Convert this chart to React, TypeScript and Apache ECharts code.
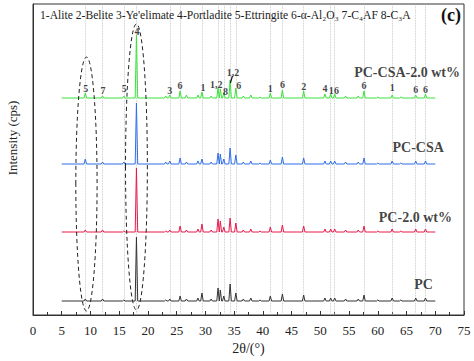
import React, { useEffect, useRef } from "react";
import * as echarts from "echarts";

// Peak positions (2θ, degrees) and heights (arbitrary units)
const peakPos = [9.1, 12.1, 15.8, 18.0, 23.1, 23.8, 25.6, 26.7, 28.7, 29.4, 31.0, 32.2, 32.6, 33.2, 34.3, 35.3, 36.6, 37.9, 39.5, 41.3, 43.4, 47.1, 50.8, 51.8, 52.5, 54.4, 56.6, 57.6, 60.0, 62.5, 64.0, 66.6, 68.3];
const greenPeaks = [5, 2, 2, 63, 2, 3, 7, 3, 3, 6, 2, 10, 9, 5, 18, 10, 2, 3, 1, 5, 8, 7, 4, 4, 4, 2, 2, 7, 1, 3, 1, 3, 4];
const bluePeaks = [5, 2, 2, 61, 2, 3, 6, 2, 3, 5, 2, 11, 10, 5, 16, 9, 2, 3, 1, 4, 7, 6, 3, 3, 3, 2, 2, 6, 1, 3, 1, 3, 3];
const redPeaks = [2, 2, 1, 64, 1, 2, 6, 2, 3, 8, 2, 13, 11, 5, 14, 9, 2, 3, 1, 5, 7, 6, 3, 3, 3, 2, 2, 6, 1, 3, 1, 3, 3];
const blackPeaks = [2, 2, 1, 64, 1, 2, 5, 2, 3, 8, 2, 13, 11, 5, 17, 8, 2, 3, 1, 5, 7, 6, 3, 3, 3, 2, 2, 6, 1, 3, 1, 3, 3];

const seriesNames = ["PC-CSA-2.0 wt%", "PC-CSA", "PC-2.0 wt%", "PC"];
const seriesOffsets = [217, 151, 83, 14];
const scanStart = 5;
const scanEnd = 70;

// Reference dotted lines
const refLines = [9.1, 12.1, 15.8, 18.0, 23.8, 25.6, 29.4, 32.2, 33.2, 34.3, 35.3, 41.3, 43.4, 47.1, 51.8, 52.5, 57.6, 62.5, 66.6, 68.3];

// Phase labels above the top pattern
const phaseLabelText = ["5", "7", "5", "4", "3", "6", "1", "1,2", "8", "1,2", "6", "1", "6", "2", "4", "1", "6", "6", "1", "6", "6"];
const phaseLabelX = [9.2, 12.2, 15.9, 18.1, 23.8, 25.6, 29.6, 31.9, 33.5, 34.8, 35.8, 41.3, 43.4, 47.1, 50.8, 51.9, 52.8, 57.6, 62.5, 66.6, 68.3];
const phaseLabelY = [227, 225, 227, 284, 225, 230, 228, 231, 224, 243, 230, 227, 231, 229, 227, 225, 225, 230, 228, 226, 226];

// Series label positions (right end, x in 2θ, y in axis units)
const nameLabelX = [74.3, 71.5, 72.9, 69.6];
const nameLabelY = [243, 168, 98, 31];

const colors = ["#3be33b", "#2f6ee8", "#e8194c", "#333333"];

const buildTrace = (heights: number[], offset: number) => {
  const w = 0.22;
  const pts: number[][] = [[scanStart, offset]];
  peakPos.forEach((p, i) => {
    pts.push([p - w, offset]);
    pts.push([p, offset + heights[i]]);
    pts.push([p + w, offset]);
  });
  pts.push([scanEnd, offset]);
  return pts;
};

export default function App() {
  const ref = useRef<HTMLDivElement>(null);
  useEffect(() => {
    if (!ref.current) return;
    document.body.style.margin = "0";
    const chart = echarts.init(ref.current, undefined, { renderer: "svg" });
    const peakSets = [greenPeaks, bluePeaks, redPeaks, blackPeaks];
    const font = "'Liberation Serif', 'Times New Roman', serif";
    const lineSeries: any[] = peakSets.map((h, i) => ({
      type: "line",
      name: seriesNames[i],
      data: buildTrace(h, seriesOffsets[i]),
      showSymbol: false,
      symbol: "none",
      lineStyle: { color: colors[i], width: 1 },
      z: 3,
      markLine:
        i === 0
          ? {
              silent: true,
              symbol: "none",
              label: { show: false },
              lineStyle: { color: "#bdbdbd", type: "dotted", width: 0.8 },
              data: refLines.map((x) => ({ xAxis: x })),
              z: 1,
            }
          : undefined,
    }));
    const option: any = {
      animation: false,
      grid: { left: 33, right: 10, top: 4, bottom: 46, show: true, borderColor: "#333", borderWidth: 1, backgroundColor: "transparent" },
      xAxis: {
        type: "value",
        min: 0,
        max: 75,
        interval: 5,
        name: "2θ/(°)",
        nameLocation: "middle",
        nameGap: 25,
        nameTextStyle: { fontFamily: font, fontSize: 14, color: "#222" },
        axisLine: { show: true, lineStyle: { color: "#333", width: 1 } },
        axisTick: { show: true, inside: true, length: 4, lineStyle: { color: "#333" } },
        minorTick: { show: true, splitNumber: 2, length: 3, lineStyle: { color: "#333" } },
        axisLabel: { fontFamily: font, fontSize: 13, color: "#222", margin: 9 },
        splitLine: { show: false },
      },
      yAxis: {
        type: "value",
        min: 0,
        max: 311,
        axisLine: { show: true, lineStyle: { color: "#333" } },
        axisTick: { show: false },
        axisLabel: { show: false },
        splitLine: { show: false },
      },
      series: [
        ...lineSeries,
        {
          type: "scatter",
          symbolSize: 0,
          silent: true,
          data: phaseLabelX.map((x, i) => ({ value: [x, phaseLabelY[i]], name: phaseLabelText[i] })),
          label: {
            show: true,
            position: "inside",
            formatter: (p: any) => p.name,
            fontFamily: font,
            fontSize: 10,
            fontWeight: "bold",
            color: "#111",
          },
          z: 5,
        },
        {
          type: "scatter",
          symbolSize: 0,
          silent: true,
          data: nameLabelX.map((x, i) => ({ value: [x, nameLabelY[i]], name: seriesNames[i] })),
          label: {
            show: true,
            position: "left",
            distance: 0,
            formatter: (p: any) => p.name,
            fontFamily: font,
            fontSize: 14,
            fontWeight: "bold",
            color: "#111",
          },
          z: 5,
        },
      ],
    };
    chart.setOption(option);

    const toPx = (x: number, y: number) => chart.convertToPixel({ gridIndex: 0 }, [x, y]) as number[];
    const ellipseDefs = [
      { cx: 9.3, cy: 131, rx: 1.85, ry: 127 },
      { cx: 18.0, cy: 148, rx: 1.9, ry: 143 },
    ];
    const ellipses = ellipseDefs.map((e) => {
      const c = toPx(e.cx, e.cy);
      const r1 = toPx(e.cx + e.rx, e.cy);
      const r2 = toPx(e.cx, e.cy + e.ry);
      return {
        type: "ellipse",
        shape: { cx: c[0], cy: c[1], rx: r1[0] - c[0], ry: c[1] - r2[1] },
        style: { fill: "none", stroke: "#222", lineWidth: 1, lineDash: [4, 3] },
        silent: true,
        z: 10,
      };
    });
    const a1 = toPx(34.7, 239);
    const a2 = toPx(34.35, 232);
    chart.setOption({
      graphic: [
        ...ellipses,
        {
          type: "line",
          shape: { x1: a1[0], y1: a1[1], x2: a2[0], y2: a2[1] },
          style: { stroke: "#111", lineWidth: 1.2 },
          z: 10,
        },
        {
          type: "text",
          x: 40,
          y: 15,
          style: {
            text: "1-Alite 2-Belite 3-Ye'elimate 4-Portladite 5-Ettringite 6-α-Al₂O₃ 7-C₄AF 8-C₃A",
            fontFamily: font,
            fontSize: 11.6,
            fill: "#222",
            align: "left",
            verticalAlign: "middle",
          },
          z: 10,
        },
        {
          type: "text",
          x: 451,
          y: 15,
          style: { text: "(c)", fontFamily: font, fontSize: 18, fontWeight: "bold", fill: "#111", align: "center", verticalAlign: "middle" },
          z: 10,
        },
        {
          type: "text",
          x: 12,
          y: 138,
          rotation: Math.PI / 2,
          style: { text: "Intensity (cps)", fontFamily: font, fontSize: 13, fill: "#222", align: "center", verticalAlign: "middle" },
          z: 10,
        },
      ],
    });
    return () => chart.dispose();
  }, []);
  return <div ref={ref} style={{ width: 474, height: 361 }} />;
}
